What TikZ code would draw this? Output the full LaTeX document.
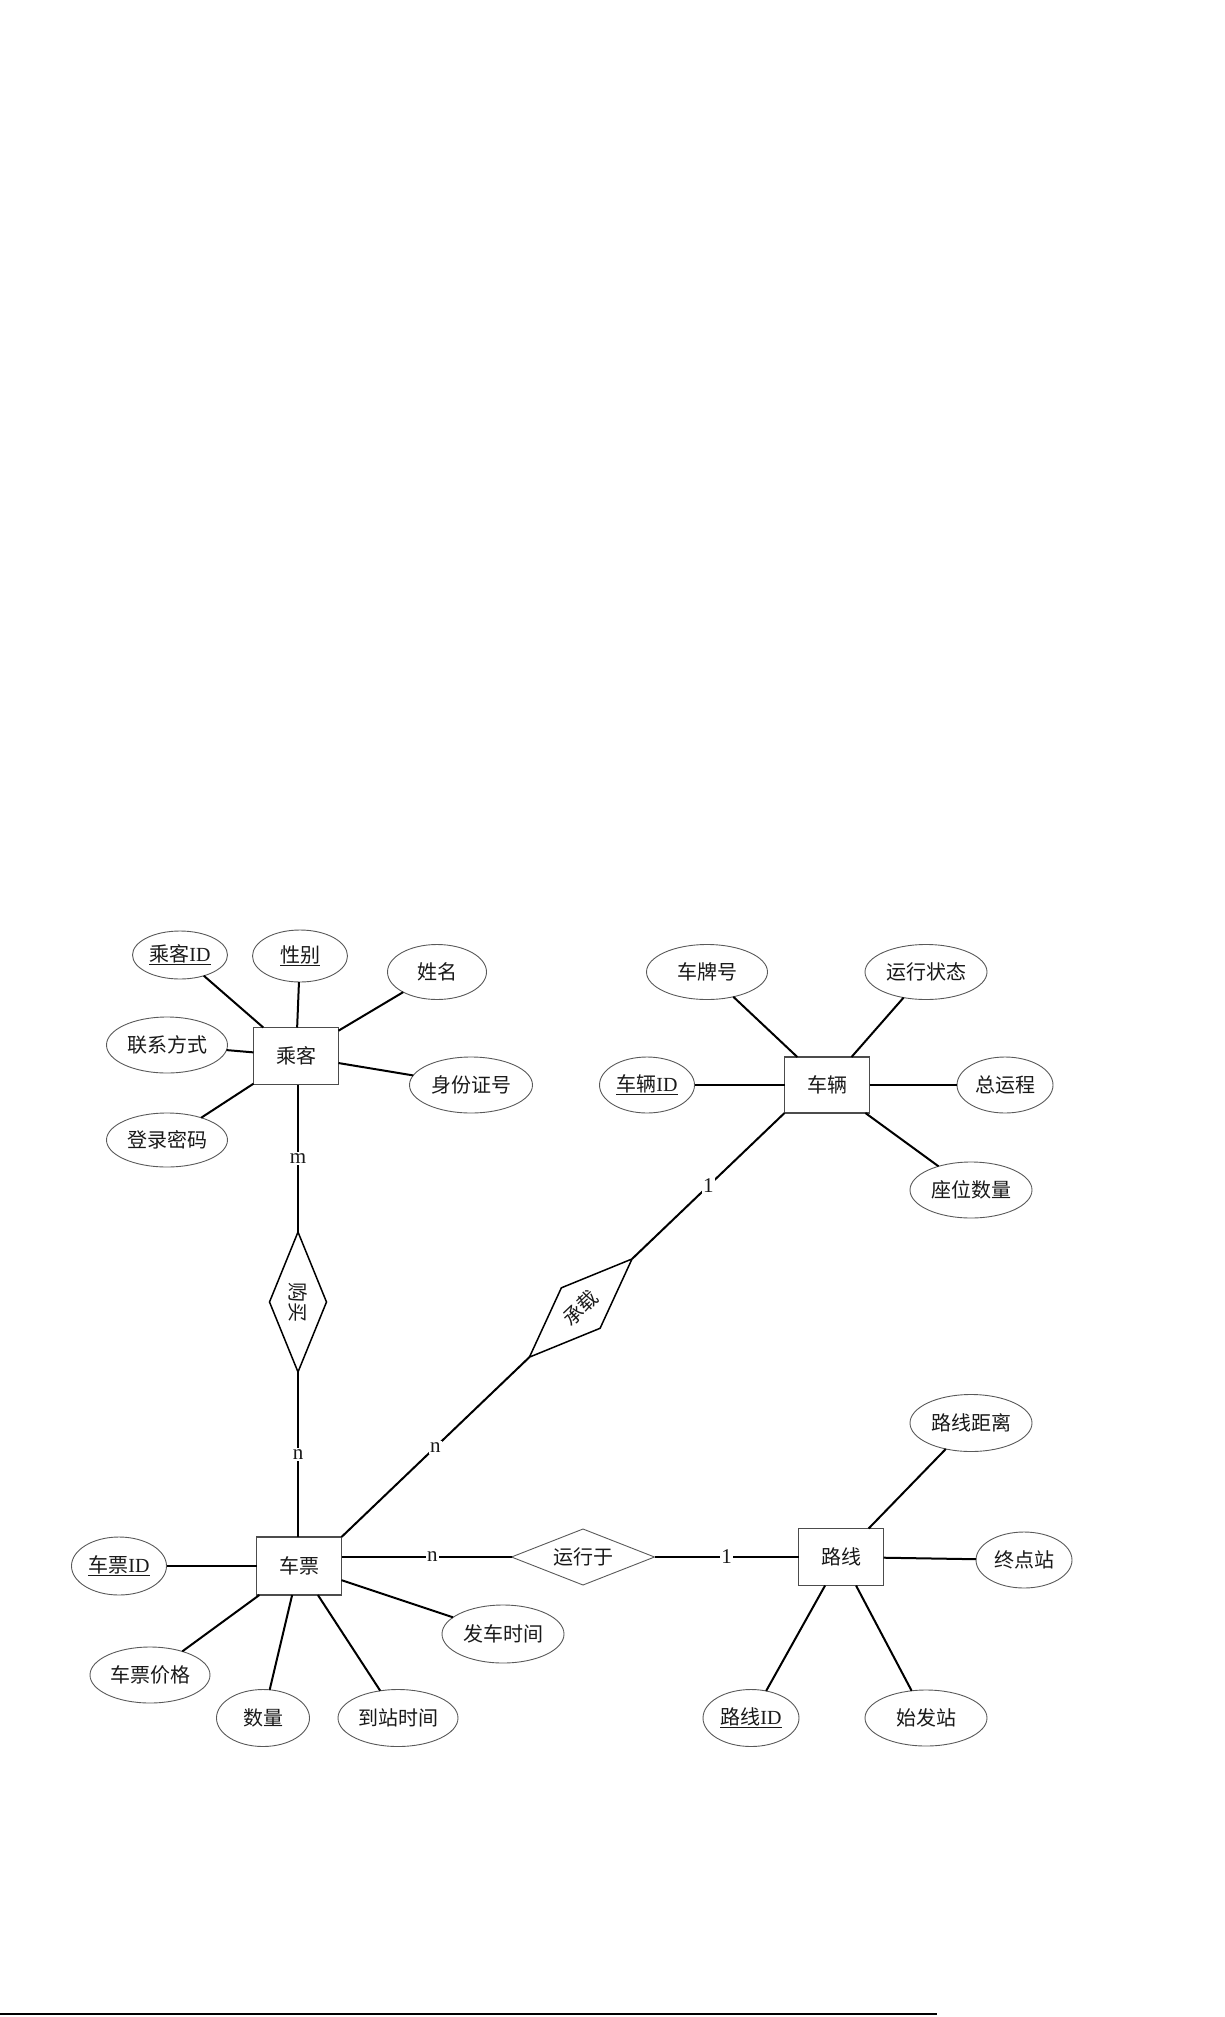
\documentclass[tikz,border=0pt]{standalone}
\usepackage{fontspec}
\setmainfont{Liberation Serif}
\newfontfamily\cjk{Noto Sans CJK SC}
\usetikzlibrary{shapes.geometric}
\begin{document}
\begin{tikzpicture}[x=1pt,y=-1pt,
  txt/.style={font=\fontsize{20}{22}\selectfont\cjk, text=black!90},
  attr/.style 2 args={ellipse, draw=black!65, line width=0.9pt, inner sep=0pt, outer sep=0pt,
    minimum width=#1pt, minimum height=#2pt, txt},
  ent/.style 2 args={rectangle, draw=black!70, line width=1.2pt, inner sep=0pt, outer sep=0pt,
    minimum width=#1pt, minimum height=#2pt, txt},
  rel/.style 2 args={diamond, draw=black, line width=1.5pt, inner sep=0pt, outer sep=0pt, aspect=2.5,
    minimum width=#1pt, minimum height=#2pt, txt},
  conn/.style={line width=2pt, black},
  card/.style={fill=white, inner sep=1.5pt, font=\fontsize{21}{22}\selectfont\rmfamily, text=black!90}
]
\useasboundingbox (0,0) rectangle (1225,2017);

% entities
\node[ent={85}{57}] (qk) at (296,1056) {乘客};
\node[ent={85}{56}] (veh) at (827,1085) {车辆};
\node[ent={85}{58}] (tk) at (299,1566) {车票};
\node[ent={85}{57}] (route) at (841,1557) {路线};

% attributes of 乘客
\node[attr={95}{48}] (a1) at (180,955) {\underline{乘客{\rmfamily ID}}};
\node[attr={95}{52}] (a2) at (300,956) {\underline{性别}};
\node[attr={99}{55}] (a3) at (437,972) {姓名};
\node[attr={121}{56}] (a4) at (167,1045) {联系方式};
\node[attr={123}{56}] (a5) at (471,1085) {身份证号};
\node[attr={121}{54}] (a6) at (167,1140) {登录密码};

% attributes of 车辆
\node[attr={121}{55}] (b1) at (707,972) {车牌号};
\node[attr={122}{55}] (b2) at (926,972) {运行状态};
\node[attr={95}{56}] (b3) at (647,1085) {\underline{车辆{\rmfamily ID}}};
\node[attr={96}{56}] (b4) at (1005,1085) {总运程};
\node[attr={122}{56}] (b5) at (971,1190) {座位数量};

% attributes of 车票
\node[attr={95}{58}] (c1) at (119,1566) {\underline{车票{\rmfamily ID}}};
\node[attr={120}{56}] (c2) at (150,1675) {车票价格};
\node[attr={93}{57}] (c3) at (263,1718) {数量};
\node[attr={120}{57}] (c4) at (398,1718) {到站时间};
\node[attr={122}{58}] (c5) at (503,1634) {发车时间};

% attributes of 路线
\node[attr={122}{57}] (d1) at (971,1423) {路线距离};
\node[attr={96}{56}] (d2) at (1024,1560) {终点站};
\node[attr={96}{57}] (d3) at (751,1718) {\underline{路线{\rmfamily ID}}};
\node[attr={122}{56}] (d4) at (926,1718) {始发站};

% attribute connectors
\foreach \a in {a1,a2,a3,a4,a5,a6} \draw[conn] (qk) -- (\a);
\foreach \a in {b1,b2,b3,b4,b5} \draw[conn] (veh) -- (\a);
\foreach \a in {c1,c2,c3,c4,c5} \draw[conn] (tk) -- (\a);
\foreach \a in {d1,d2,d3,d4} \draw[conn] (route) -- (\a);

% relationships
\node[rel={140}{57}, rotate=-90] (buy) at (298,1302) {购买};
\node[rel={143}{56}, draw=black!65, line width=0.9pt] (run) at (583,1557) {运行于};
\path (tk.north east) -- coordinate[pos=0.54] (cm) (veh.south west);
\node[rel={142}{56}, rotate=43.74] (carry) at (cm) {承载};

\coordinate (qkb) at (298,1085);
\coordinate (tkt) at (298,1537);
\draw[conn] (qkb) -- node[card]{m} (buy);
\draw[conn] (buy) -- node[card]{n} (tkt);
\draw[conn] (tk.north east) -- node[card]{n} (carry.west);
\draw[conn] (carry.east) -- node[card]{1} (veh.south west);
\draw[conn] (run.west -| tk.east) -- node[card, pos=0.535]{n} (run.west);
\draw[conn] (run.east) -- node[card]{1} (route.west |- run.east);

% bottom rule
\coordinate (bl) at (0,2014);
\coordinate (br) at (937,2014);
\draw[line width=2.5pt] (bl) -- (br);
\end{tikzpicture}
\end{document}
